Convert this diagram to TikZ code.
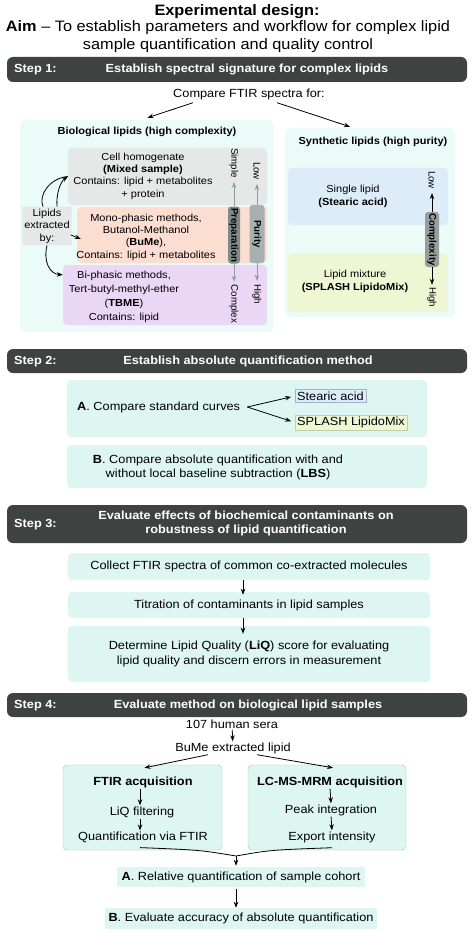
\documentclass[tikz,border=0pt]{standalone}
\usepackage{fontspec}
\setmainfont[FakeStretch=1.08]{Liberation Sans}
\newfontfamily\uprightfont{Liberation Sans}
\usetikzlibrary{arrows.meta,calc,positioning}

\definecolor{barcol}{HTML}{3E4342}
\definecolor{panelcol}{HTML}{EAFBF8}
\definecolor{boxcol}{HTML}{DDF6F2}
\definecolor{homcol}{HTML}{E6E7E7}
\definecolor{monocol}{HTML}{FBDDD1}
\definecolor{bicol}{HTML}{EAD7F6}
\definecolor{singlecol}{HTML}{DDECF9}
\definecolor{mixcol}{HTML}{EEF7D4}
\definecolor{prepcol}{HTML}{808B89}
\definecolor{puritycol}{HTML}{A8B0AF}
\definecolor{axiscol}{HTML}{8E9CA6}
\definecolor{edgecol}{HTML}{B4BDBC}
\definecolor{singleedge}{HTML}{9FB4C8}
\definecolor{mixedge}{HTML}{C3CFA0}

\newcommand{\fsbig}{\fontsize{15.1}{18}\selectfont}
\newcommand{\fsmid}{\fontsize{11.8}{14.5}\selectfont}
\newcommand{\fssmall}{\fontsize{10.2}{12.4}\selectfont}
\newcommand{\fsrot}{\uprightfont\fontsize{9.7}{11}\selectfont}

\tikzset{
	stepbar/.style={fill=barcol, rounded corners=6pt, inner sep=0pt},
	steptext/.style={text=white, font=\fsmid\bfseries, align=center, inner sep=0pt},
	oneline/.style={text height=8.6pt, text depth=2.4pt},
	panel/.style={fill=panelcol, rounded corners=5pt, inner sep=0pt},
	box/.style={fill=boxcol, rounded corners=4pt, inner sep=0pt},
	subbox/.style={rounded corners=4pt, inner sep=0pt},
	txt/.style={font=\fsmid, align=center, inner sep=0pt},
	smalltxt/.style={font=\fssmall, align=center, inner sep=0pt},
	pill/.style={rounded corners=3pt, inner sep=0pt, rotate=-90, font=\fsrot\bfseries},
	axislabel/.style={font=\fsrot, rotate=-90, inner sep=0pt},
	arr/.style={-{Stealth[length=6pt,width=4.5pt,inset=2pt]}, line width=0.8pt},
}

\begin{document}
\begin{tikzpicture}[x=1pt,y=-1pt]
	%%%%% START %%%%%
	\fill[white] (0,0) rectangle (474,936);
	
	% title
	\node[font=\fsbig\bfseries, inner sep=0pt] (title) at (237,12) {Experimental design:};
	\node[font=\fsbig, align=center, inner sep=0pt] (aim) at (228,37) {\textbf{Aim} -- To establish parameters and workflow for complex lipid\\sample quantification and quality control};
	
	%%%%% STEP 1 %%%%%
	\node[stepbar, minimum width=460pt, minimum height=25pt] (bar1) at (237,69.5) {};
	\node[steptext, oneline, anchor=west] (step1) at (14,69.5) {Step 1:};
	\node[steptext, oneline] (head1) at (247,69.5) {Establish spectral signature for complex lipids};
	
	\node[txt] (compare) at (249,94) {Compare FTIR spectra for:};
	
	\node[panel, minimum width=253pt, minimum height=212pt] (biopanel) at (146.5,226) {};
	\node[panel, minimum width=170pt, minimum height=189pt] (synpanel) at (370,222.5) {};
	
	\draw[arr] ($(compare.south)+(-56,3)$) -- ($(biopanel.north)+(1,-2)$);
	\draw[arr] ($(compare.south)+(28,3)$) -- ($(synpanel.north)+(-20,-1)$);
	
	% biological lipids
	\node[smalltxt, font=\fssmall\bfseries] (biotitle) at (147,132) {Biological lipids (high complexity)};
	
	\node[subbox, fill=homcol, minimum width=199pt, minimum height=57pt] (homog) at (167.5,176.5) {};
	\node[smalltxt] (homtext) at (143,176) {Cell homogenate\\\textbf{(Mixed sample)}\\Contains: lipid + metabolites\\+ protein};
	
	\node[subbox, fill=monocol, minimum width=190pt, minimum height=56pt] (mono) at (172,235) {};
	\node[smalltxt] (monotext) at (146,237) {Mono-phasic methods,\\Butanol-Methanol\\(\textbf{BuMe}),\\Contains: lipid + metabolites};
	
	\node[subbox, fill=bicol, minimum width=204pt, minimum height=60pt] (biph) at (165,295) {};
	\node[smalltxt] (bitext) at (124,297) {Bi-phasic methods,\\[1.5pt]Tert-butyl-methyl-ether\\[1.5pt](\textbf{TBME})\\[1.5pt]Contains: lipid};
	
	\node[smalltxt, fill=homcol, inner sep=2pt, rounded corners=2pt] (lipids) at (47,226) {Lipids\\extracted\\by:};
	\draw[line width=0.8pt] ($(lipids.north)+(-4,0)$) .. controls (38,195) and (50,178) .. (homog.west);
	\draw[arr] ($(lipids.north)+(10,0)$) .. controls (56,195) and (60,182) .. (homog.west);
	\draw[arr] ($(lipids.east)+(-1,9)$) -- ($(mono.west)+(4,4)$);
	\draw[arr] (lipids.south) .. controls (43,262) and (50,274) .. ($(biph.north west)+(0,10)$);
	
	% preparation and purity axes
	\node[axislabel] (simple) at (234,163) {Simple};
	\node[pill, fill=prepcol, minimum width=57pt, minimum height=12pt] (prep) at (234,235) {Preparation};
	\node[axislabel] (complex) at (234,304) {Complex};
	\draw[arr, axiscol, shorten >=4pt] (prep.west) -- (simple.east);
	\draw[arr, axiscol, shorten >=3pt] (prep.east) -- (complex.west);
	
	\node[axislabel] (low) at (257,171) {Low};
	\node[pill, fill=puritycol, minimum width=58pt, minimum height=15pt] (purity) at (257,234) {Purity};
	\node[axislabel] (high) at (257,294) {High};
	\draw[arr, axiscol, shorten >=4pt] (purity.west) -- (low.east);
	\draw[arr, axiscol, shorten >=3pt] (purity.east) -- (high.west);
	
	% synthetic lipids
	\node[smalltxt, font=\fssmall\bfseries] (syntitle) at (373,142) {Synthetic lipids (high purity)};
	
	\node[subbox, fill=singlecol, minimum width=160pt, minimum height=57pt] (single) at (368,196.5) {};
	\node[smalltxt] (singletext) at (353,196.5) {Single lipid\\\textbf{(Stearic acid)}};
	
	\node[subbox, fill=mixcol, minimum width=160pt, minimum height=59pt] (mixture) at (368,282.5) {};
	\node[smalltxt] (mixtext) at (355,281.5) {Lipid mixture\\\textbf{(SPLASH LipidoMix)}};
	
	\node[axislabel] (clow) at (432,180) {Low};
	\node[pill, fill=puritycol!90!black, minimum width=55pt, minimum height=14pt] (cplx) at (432,239.5) {Complexity};
	\node[axislabel] (chigh) at (432,297) {High};
	\draw[arr, shorten >=4pt] (cplx.west) -- (clow.east);
	\draw[arr, shorten >=2pt] (cplx.east) -- (chigh.west);
	
	%%%%% STEP 2 %%%%%
	\node[stepbar, minimum width=460pt, minimum height=24pt] (bar2) at (237,361) {};
	\node[steptext, oneline, anchor=west] (step2) at (14,361) {Step 2:};
	\node[steptext, oneline] (head2) at (248,361) {Establish absolute quantification method};
	
	\node[box, minimum width=360pt, minimum height=57pt] (stdbox) at (247,408.5) {};
	\node[txt, anchor=west] (stdtext) at (77,407) {\textbf{A}. Compare standard curves};
	\node[txt, fill=singlecol, draw=singleedge, inner sep=2pt, anchor=west] (stearic) at (295,396) {Stearic acid};
	\node[txt, fill=mixcol, draw=mixedge, inner sep=2pt, anchor=west] (splash) at (295,422.5) {SPLASH LipidoMix};
	\draw[arr, shorten >=4pt] ($(stdtext.east)+(7,0)$) -- (stearic.west);
	\draw[arr, shorten >=4pt] ($(stdtext.east)+(7,0)$) -- (splash.west);
	
	\node[box, minimum width=360pt, minimum height=43pt] (lbsbox) at (247,466.5) {};
	\node[txt] (lbstext) at (218,467.5) {\textbf{B}. Compare absolute quantification with and\\without local baseline subtraction (\textbf{LBS})};
	
	%%%%% STEP 3 %%%%%
	\node[stepbar, minimum width=460pt, minimum height=38pt] (bar3) at (237,524) {};
	\node[steptext, oneline, anchor=west] (step3) at (14,524) {Step 3:};
	\node[steptext, font=\fontsize{11.8}{14}\selectfont\bfseries] (head3) at (246,523) {Evaluate effects of biochemical contaminants on\\robustness of lipid quantification};
	
	\node[box, txt, minimum width=362pt, minimum height=27pt] (collect) at (249,566.5) {Collect FTIR spectra of common co-extracted molecules};
	\node[box, txt, minimum width=362pt, minimum height=26pt] (titr) at (249,605) {Titration of contaminants in lipid samples};
	\node[box, txt, minimum width=362pt, minimum height=56pt] (liq) at (249,654) {Determine Lipid Quality (\textbf{LiQ}) score for evaluating\\lipid quality and discern errors in measurement};
	\draw[arr] ($(collect.south)+(-6,0)$) -- ($(titr.north)+(-6,3)$);
	\draw[arr] ($(titr.south)+(-6,0)$) -- ($(liq.north)+(-6,8)$);
	
	%%%%% STEP 4 %%%%%
	\node[stepbar, minimum width=460pt, minimum height=24pt] (bar4) at (237,705) {};
	\node[steptext, oneline, anchor=west] (step4) at (14,705) {Step 4:};
	\node[steptext, oneline] (head4) at (248,705) {Evaluate method on biological lipid samples};
	
	\node[txt] (sera) at (232,724) {107 human sera};
	\node[txt] (bume) at (233,748) {BuMe extracted lipid};
	\draw[arr, shorten <=1pt, shorten >=1pt] (sera) -- (bume);
	
	\node[box, draw=edgecol, minimum width=159pt, minimum height=85pt] (ftirbox) at (142.5,807.5) {};
	\node[txt, font=\fsmid\bfseries] (ftirhead) at (143,782) {FTIR acquisition};
	\node[txt] (liqfilt) at (142,812) {LiQ filtering};
	\node[txt] (ftirquant) at (143,837) {Quantification via FTIR};
	\draw[arr, shorten <=1pt, shorten >=1pt] ($(ftirhead.south)+(-3,0)$) -- ($(liqfilt.north)+(-2,0)$);
	\draw[arr, shorten <=1pt, shorten >=1pt] ($(liqfilt.south)+(-2,0)$) -- ($(ftirquant.north)+(-3,0)$);
	
	\node[box, draw=edgecol, minimum width=158pt, minimum height=85pt] (lcbox) at (327,807.5) {};
	\node[txt, font=\fsmid\bfseries] (lchead) at (330,782) {LC-MS-MRM acquisition};
	\node[txt] (peak) at (331,810) {Peak integration};
	\node[txt] (export) at (332,837) {Export intensity};
	\draw[arr, shorten <=1pt, shorten >=1pt] (lchead.south) -- (peak.north);
	\draw[arr, shorten <=1pt, shorten >=1pt] (peak.south) -- (export.north);
	
	\draw[arr] ($(bume.south)+(-25,1)$) -- ($(ftirbox.north)+(2,3)$);
	\draw[arr] ($(bume.south)+(24,1)$) -- ($(lcbox.north)+(6,3)$);
	
	\node[box, txt, minimum width=248pt, minimum height=20pt, rounded corners=1pt] (relquant) at (241,877) {\textbf{A}. Relative quantification of sample cohort};
	\node[box, txt, minimum width=272pt, minimum height=21pt, rounded corners=1pt] (absquant) at (241,918.5) {\textbf{B}. Evaluate accuracy of absolute quantification};
	
	\coordinate (merge) at (236,856);
	\draw[line width=0.8pt] ($(ftirquant.south)+(-3,5)$) .. controls (200,850) .. (merge);
	\draw[line width=0.8pt] ($(export.south)+(0,5)$) .. controls (270,850) .. (merge);
	\draw[arr] (merge) -- ($(relquant.north)+(-5,-1)$);
	\draw[arr] ($(relquant.south)+(-5,2)$) -- ($(absquant.north)+(-5,0)$);
	
	%%%%% END %%%%%
\end{tikzpicture}
\end{document}
